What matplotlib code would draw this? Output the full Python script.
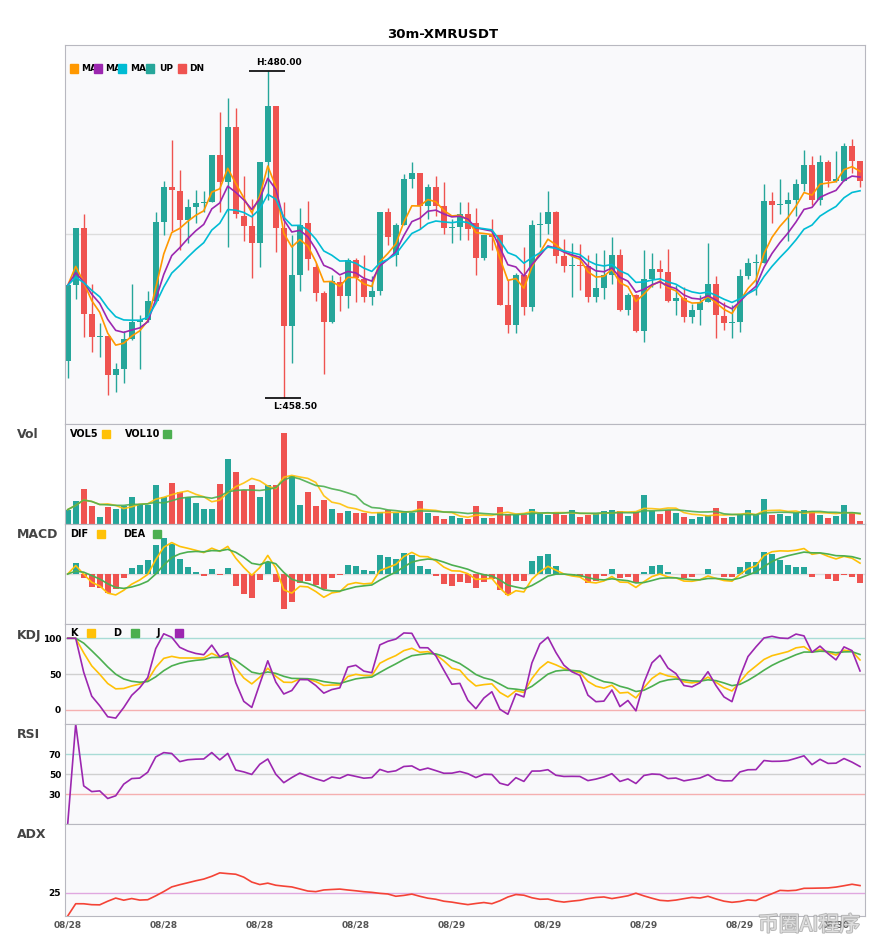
import numpy as np
import pandas as pd
import matplotlib
matplotlib.use("Agg")
import matplotlib.pyplot as plt
from matplotlib.patches import Rectangle
from matplotlib.transforms import Bbox, TransformedBbox
import matplotlib.patheffects as pe

# ---- data (30m candles) ----
opens = [460.9, 465.9, 469.65, 464.0, 462.5, 462.6, 460.0, 460.4, 462.35, 463.5,
         463.6, 464.9, 470.1, 472.4, 472.1, 470.2, 471.05, 471.3, 471.4, 474.5,
         472.7, 476.3, 470.5, 469.8, 468.7, 474.0, 477.7, 469.7, 463.2, 466.6,
         470.0, 467.1, 465.4, 463.5, 466.1, 465.2, 467.6, 466.3, 465.15, 465.5,
         470.7, 467.9, 469.9, 472.9, 473.3, 471.1, 472.4, 471.1, 469.7, 469.75,
         470.6, 470.0, 467.7, 469.2, 469.2, 464.6, 463.3, 466.6, 464.45, 469.9,
         469.95, 470.7, 467.85, 467.2, 467.25, 467.2, 465.15, 465.75, 466.6, 467.9,
         464.3, 465.3, 462.9, 466.3, 467.0, 466.75, 464.9, 465.1, 463.8, 464.3,
         464.8, 466.0, 463.9, 463.45, 463.5, 466.5, 467.35, 467.4, 471.45, 471.2,
         471.25, 471.55, 472.6, 473.8, 471.5, 474.0, 472.8, 472.8, 475.1, 474.1]
highs = [465.9, 469.65, 470.6, 466.0, 463.4, 462.6, 460.8, 462.9, 466.0, 463.95,
         465.5, 470.7, 472.8, 475.5, 473.5, 471.6, 472.2, 472.1, 474.5, 477.3,
         478.2, 477.6, 473.1, 471.6, 474.0, 480.0, 477.7, 471.4, 469.2, 471.0,
         471.45, 467.4, 465.5, 466.6, 466.5, 467.7, 467.7, 467.9, 466.5, 470.75,
         471.0, 470.0, 473.2, 474.0, 473.3, 472.6, 473.1, 472.7, 470.3, 471.4,
         471.4, 471.0, 469.2, 470.3, 469.2, 466.25, 466.7, 468.4, 470.2, 470.75,
         472.1, 470.8, 468.95, 468.7, 468.6, 467.9, 468.0, 468.2, 469.1, 468.3,
         465.4, 465.35, 468.2, 468.05, 467.6, 468.3, 465.9, 465.8, 464.7, 465.3,
         468.7, 466.5, 464.8, 464.6, 466.95, 467.7, 467.95, 472.6, 472.06, 472.9,
         472.05, 472.9, 474.8, 474.4, 474.5, 474.15, 474.74, 475.3, 475.55, 474.1]
lows = [459.8, 465.0, 462.5, 461.5, 461.2, 458.7, 458.9, 459.5, 462.3, 460.4,
        463.5, 464.9, 469.2, 469.5, 468.2, 468.7, 470.0, 470.7, 471.4, 470.7,
        468.4, 470.35, 468.8, 466.4, 467.1, 471.5, 468.1, 458.5, 460.8, 465.5,
        466.9, 464.9, 460.1, 463.4, 464.2, 464.4, 464.8, 464.8, 464.6, 465.3,
        468.55, 467.2, 469.9, 472.3, 469.6, 470.3, 470.5, 469.3, 468.7, 468.9,
        468.9, 466.6, 467.6, 468.2, 464.6, 462.8, 462.8, 463.95, 464.2, 468.4,
        469.3, 467.35, 466.8, 465.15, 465.6, 464.8, 464.8, 465.0, 466.0, 464.2,
        463.95, 462.85, 462.2, 465.8, 465.75, 464.8, 463.95, 463.5, 463.45, 463.3,
        464.8, 462.45, 462.95, 462.45, 462.85, 466.35, 465.3, 467.4, 470.0, 470.6,
        468.8, 470.5, 472.1, 471.2, 471.2, 472.35, 472.7, 472.8, 473.3, 472.4]
closes = [465.9, 469.65, 464.0, 462.5, 462.6, 460.0, 460.4, 462.35, 463.5, 463.6,
          464.9, 470.1, 472.4, 472.2, 470.2, 471.05, 471.3, 471.4, 474.5, 472.7,
          476.3, 470.6, 469.8, 468.7, 474.0, 477.7, 469.7, 463.2, 466.6, 469.9,
          467.65, 465.4, 463.5, 466.2, 465.2, 467.6, 466.4, 465.15, 465.5, 470.7,
          469.1, 469.9, 472.9, 473.3, 471.1, 472.4, 471.1, 469.7, 469.75, 470.6,
          469.6, 467.7, 469.2, 469.1, 464.6, 463.3, 466.6, 464.45, 469.9, 469.95,
          470.7, 467.85, 467.2, 467.25, 467.2, 465.15, 465.75, 466.6, 467.9, 464.3,
          465.3, 462.9, 466.3, 467.0, 466.8, 464.9, 465.1, 463.8, 464.3, 464.8,
          466.0, 463.95, 463.45, 463.5, 466.5, 467.35, 467.4, 471.45, 471.2, 471.25,
          471.55, 472.6, 473.8, 471.5, 474.0, 472.8, 472.9, 475.1, 474.1, 472.8]
volumes = [14.3, 22.7, 34.3, 18.3, 7.3, 17.3, 15.3, 18.3, 27.3, 20.3,
           19.3, 38.3, 27.3, 40.3, 31.3, 27.3, 21.3, 15.3, 15.3, 39.3,
           64.3, 51.3, 33.3, 38.3, 27.3, 38.3, 38.3, 90.3, 47.3, 19.3,
           31.3, 18.3, 24.3, 15.3, 11.3, 13.3, 11.3, 11.3, 8.3, 12.3,
           14.3, 11.3, 13.3, 11.3, 23.3, 11.3, 8.3, 5.3, 8.3, 6.3,
           5.3, 18.3, 6.3, 6.3, 17.3, 10.3, 9.3, 9.3, 15.3, 10.3,
           9.3, 12.3, 9.3, 14.3, 7.3, 9.3, 10.3, 13.3, 14.3, 13.3,
           8.3, 12.3, 29.3, 13.3, 10.3, 14.3, 11.3, 7.3, 5.3, 7.3,
           9.3, 16.3, 6.3, 7.3, 9.3, 14.3, 9.3, 25.3, 9.3, 10.3,
           8.3, 11.3, 14.3, 13.3, 9.3, 6.3, 8.3, 19.3, 12.3, 3.3]
times = pd.date_range("2024-08-28 02:00", periods=len(closes), freq="30min")

# ---- colours ----
UP, DN = "#26A69A", "#EF5350"
MA_COLORS = ["#FF9800", "#9C27B0", "#00BCD4"]
YEL, GRN, PUR = "#FFC107", "#4CAF50", "#9C27B0"
PANEL = "#F9F9FB"
SPINE = "#B8B8C0"

df = pd.DataFrame({"o": opens, "h": highs, "l": lows, "c": closes, "v": volumes})
x = np.arange(len(df))
c = df["c"]

# ---- indicators ----
ma = [c.ewm(span=n, adjust=False).mean() for n in (5, 8, 13)]
vol5 = df["v"].rolling(5, min_periods=1).mean()
vol10 = df["v"].rolling(10, min_periods=1).mean()

dif = c.ewm(span=5, adjust=False).mean() - c.ewm(span=10, adjust=False).mean()
dea = dif.ewm(span=5, adjust=False).mean()
hist = 2 * (dif - dea)

low9 = df["l"].rolling(9, min_periods=1).min()
high9 = df["h"].rolling(9, min_periods=1).max()
rsv = ((c - low9) / (high9 - low9) * 100).fillna(50)
k = rsv.ewm(com=2, adjust=False).mean()
d = k.ewm(com=2, adjust=False).mean()
j = 3 * k - 2 * d

delta = c.diff()
gain = delta.clip(lower=0).ewm(alpha=1 / 14).mean()
loss = (-delta.clip(upper=0)).ewm(alpha=1 / 14).mean()
rsi = 100 * gain / (gain + loss)
rsi = rsi.fillna(0)

prev_c = c.shift()
tr = pd.concat([df["h"] - df["l"], (df["h"] - prev_c).abs(),
                (df["l"] - prev_c).abs()], axis=1).max(axis=1)
up_m = df["h"].diff()
dn_m = -df["l"].diff()
pdm = up_m.where((up_m > dn_m) & (up_m > 0), 0).fillna(0)
mdm = dn_m.where((dn_m > up_m) & (dn_m > 0), 0).fillna(0)
atr = tr.ewm(span=14, adjust=False).mean()
pdi = 100 * pdm.ewm(span=14, adjust=False).mean() / atr
mdi = 100 * mdm.ewm(span=14, adjust=False).mean() / atr
dx = (100 * (pdi - mdi).abs() / (pdi + mdi)).fillna(0)
adx = dx.ewm(span=14, adjust=False).mean()

# ---- figure ----
W, H = 885, 950
plt.rcParams["font.family"] = "DejaVu Sans"
fig = plt.figure(figsize=(W / 100, H / 100), dpi=100, facecolor="white")


def fx(px):
    return px / W


def fy(py):
    return 1 - py / H


def make_ax(top, bottom):
    ax = fig.add_axes([fx(65.3), fy(bottom), 800 / W, (bottom - top) / H])
    ax.set_facecolor(PANEL)
    for s in ax.spines.values():
        s.set_color(SPINE)
    ax.set_xlim(-0.3, len(df) - 0.34)
    ax.tick_params(length=0, labelsize=6.5, pad=3)
    ax.set_xticks([])
    return ax


ax_p = make_ax(45, 424)
ax_v = make_ax(424, 524)
ax_m = make_ax(524, 624)
ax_k = make_ax(624, 724)
ax_r = make_ax(724, 824)
ax_a = make_ax(824, 916)

fig.text(0.5, fy(34), "30m-XMRUSDT", ha="center", va="center",
         fontsize=9.5, fontweight="bold")

# price panel
colors = [UP if cc >= oo else DN for oo, cc in zip(opens, closes)]
ax_p.vlines(x, df["l"], df["h"], color=colors, lw=1)
body_lo = np.minimum(df["o"], df["c"])
body_h = np.maximum((df["c"] - df["o"]).abs(), 0.06)
ax_p.bar(x, body_h, bottom=body_lo, width=0.75, color=colors, zorder=2)
for m, col in zip(ma, MA_COLORS):
    ax_p.plot(x, m, color=col, lw=1.2, zorder=3)
lo, hi = min(lows), max(highs)
rng = hi - lo
ax_p.set_ylim(lo - 0.08 * rng, hi + 0.08 * rng)
ax_p.axhline(sum(ax_p.get_ylim()) / 2, color="#DDDDDD", lw=1, zorder=0)
ax_p.set_yticks([])

ih, il = int(np.argmax(highs)), int(np.argmin(lows))
ax_p.hlines(hi, ih - 2.3, ih + 2.2, color="black", lw=1.2)
ax_p.text(ih - 1.45, hi + 0.25, f"H:{hi:.2f}", fontsize=6.5, fontweight="bold",
          ha="left", va="bottom")
ax_p.hlines(lo, il - 2.3, il + 2.2, color="black", lw=1.2)
ax_p.text(il - 1.3, lo - 0.3, f"L:{lo:.2f}", fontsize=6.5, fontweight="bold",
          ha="left", va="top")


def square(px, py, color):
    fig.add_artist(Rectangle((fx(px), fy(py + 4)), 8 / W, 8 / H,
                             transform=fig.transFigure, color=color, zorder=10))


def label(px, py, s, clip_px=None, size=7):
    t = fig.text(fx(px), fy(py), s, fontsize=size, fontweight="bold",
                 ha="left", va="center", zorder=5)
    if clip_px is not None:
        bb = Bbox.from_extents(fx(px - 3), 0, fx(clip_px), 1)
        t.set_clip_box(TransformedBbox(bb, fig.transFigure))
        t.set_clip_on(True)


# main legend (labels run under the next square, as in the original)
label(81, 68.5, "MA5", 94, 6.5)
square(70, 68.5, MA_COLORS[0])
label(105, 68.5, "MA8", 118, 6.5)
square(94, 68.5, MA_COLORS[1])
label(130, 68.5, "MA13", 146, 6.5)
square(118, 68.5, MA_COLORS[2])
label(159, 68.5, "UP", size=6.5)
square(146, 68.5, UP)
label(189, 68.5, "DN", size=6.5)
square(178, 68.5, DN)

# volume
ax_v.bar(x, df["v"], width=0.75, color=colors)
ax_v.plot(x, vol5, color=YEL, lw=1.2, alpha=0.9)
ax_v.plot(x, vol10, color=GRN, lw=1.2, alpha=0.9)
ax_v.set_ylim(0, max(volumes) * 1.1)
ax_v.set_yticks([])
label(70, 434, "VOL5")
square(102, 434, YEL)
label(125, 434, "VOL10")
square(163, 434, GRN)

# MACD
hcol = [UP if hv >= 0 else DN for hv in hist]
ax_m.bar(x, hist, width=0.75, color=hcol)
ax_m.axhline(0, color="#DDDDDD", lw=1, zorder=0)
ax_m.plot(x, dif, color=YEL, lw=1.2)
ax_m.plot(x, dea, color=GRN, lw=1.2)
lim = max(hist.abs().max(), dif.abs().max()) * 1.4
ax_m.set_ylim(-lim, lim)
ax_m.set_yticks([])
label(70, 534, "DIF")
square(97, 534, YEL)
label(123, 534, "DEA")
square(153, 534, GRN)

# KDJ
ax_k.axhline(100, color="#A8DCD6", lw=1)
ax_k.axhline(50, color="#D0D0D0", lw=1)
ax_k.axhline(0, color="#F5B0B0", lw=1)
ax_k.plot(x, k, color=YEL, lw=1.2)
ax_k.plot(x, d, color=GRN, lw=1.2)
ax_k.plot(x, j, color=PUR, lw=1.2)
ax_k.set_ylim(-20, 120)
ax_k.set_yticks([0, 50, 100])
ax_k.set_yticklabels(["0", "50", "100"], fontweight="bold")
label(70, 633, "K")
square(87, 633, YEL)
label(113, 633, "D")
square(131, 633, GRN)
label(157, 633, "J")
square(175, 633, PUR)

# RSI
ax_r.axhline(70, color="#A8DCD6", lw=1)
ax_r.axhline(50, color="#D0D0D0", lw=1)
ax_r.axhline(30, color="#F5B0B0", lw=1)
ax_r.plot(x, rsi, color=PUR, lw=1.2)
ax_r.set_ylim(0, 100)
ax_r.set_yticks([30, 50, 70])
ax_r.set_yticklabels(["30", "50", "70"], fontweight="bold")

# ADX
ax_a.axhline(25, color="#E0A8E0", lw=1)
ax_a.plot(x, adx, color="#F44336", lw=1.2)
ax_a.set_ylim(0, 100)
ax_a.set_yticks([25])
ax_a.set_yticklabels(["25"], fontweight="bold")
tick_idx = list(range(0, len(df), 12))
ax_a.set_xticks(tick_idx)
ax_a.set_xticklabels([times[i].strftime("%m/%d") for i in tick_idx],
                     fontsize=6.5, fontweight="bold", color="#555555")
ax_a.tick_params(axis="x", length=0, pad=3)

# panel names
for name, py in [("Vol", 434), ("MACD", 535), ("KDJ", 635), ("RSI", 735), ("ADX", 834)]:
    fig.text(fx(17), fy(py), name, fontsize=9, fontweight="bold",
             color="#444444", ha="left", va="center")

# watermark (semi-transparent so the last date shows through)
fig.text(fx(758), fy(925), "币圈AI程序", fontsize=15, color=(1, 1, 1, 0.55),
         family=["Noto Sans CJK SC", "DejaVu Sans"], ha="left", va="center",
         path_effects=[pe.withStroke(linewidth=1.4, foreground=(0.6, 0.6, 0.6, 0.7))],
         zorder=20)

fig.savefig("out.png", dpi=100, facecolor="white")
